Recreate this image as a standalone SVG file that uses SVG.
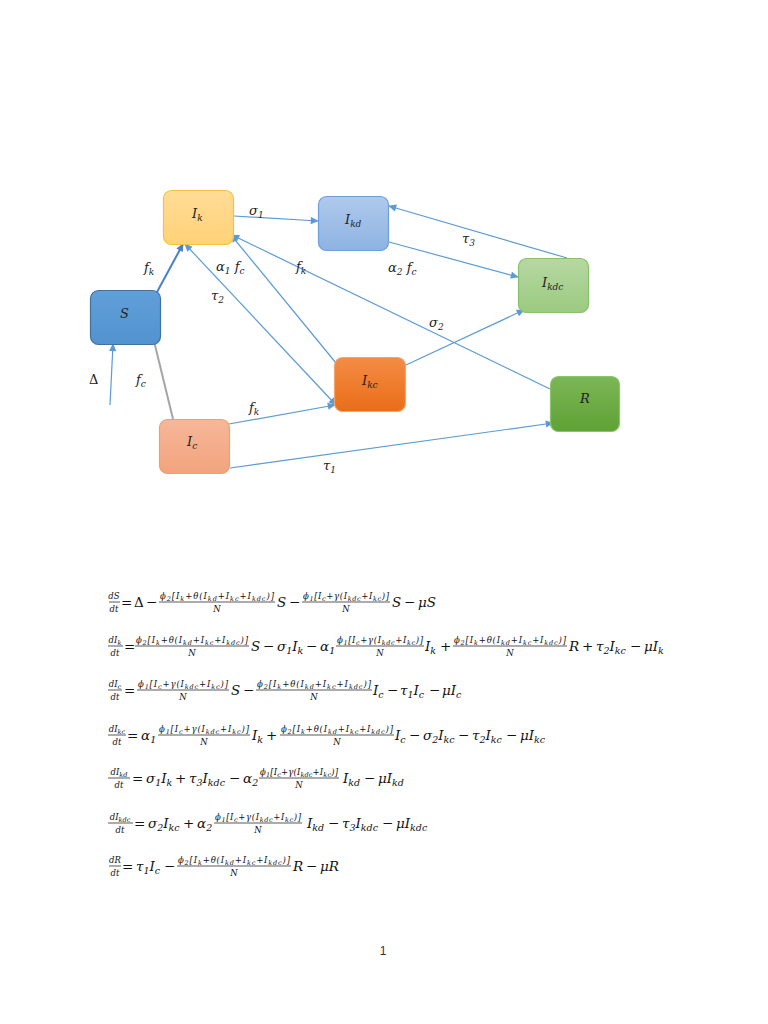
<svg xmlns="http://www.w3.org/2000/svg" width="768" height="1024" viewBox="0 0 768 1024">
<defs>
<style>
.lbl{font-family:"DejaVu Serif","Liberation Serif",serif;font-style:italic;font-size:13px;fill:#222}
.lb{font-size:9px;baseline-shift:-3px}
.m{font-family:"DejaVu Serif","Liberation Serif",serif;font-style:italic;font-size:13.5px;fill:#111}
.u{font-style:normal}
.s{font-size:9.5px;baseline-shift:-3px}
.n{font-family:"DejaVu Serif","Liberation Serif",serif;font-style:italic;font-size:8.5px;fill:#111}
.ns{font-size:6.5px;baseline-shift:-1.5px}
.bar{stroke:#111;stroke-width:0.7}
.c{fill:none;stroke:#5B9BD5;stroke-width:1.2}
.box{stroke-width:1.2}
</style>
<marker id="a" viewBox="0 0 10 10" refX="9" refY="5" markerWidth="9" markerHeight="8" markerUnits="userSpaceOnUse" orient="auto-start-reverse"><path d="M0,0.5 L10,5 L0,9.5 z" fill="#5B9BD5"/></marker>
<marker id="a2" viewBox="0 0 10 10" refX="9" refY="5" markerWidth="9" markerHeight="8" markerUnits="userSpaceOnUse" orient="auto"><path d="M0,0.5 L10,5 L0,9.5 z" fill="#4A7FCB"/></marker>
<linearGradient id="gIk" x1="0" y1="0" x2="0" y2="1"><stop offset="0" stop-color="#FFDC96"/><stop offset="1" stop-color="#FFD278"/></linearGradient>
<linearGradient id="gIkd" x1="0" y1="0" x2="0" y2="1"><stop offset="0" stop-color="#AFC9EC"/><stop offset="1" stop-color="#8DB3E2"/></linearGradient>
<linearGradient id="gIkdc" x1="0" y1="0" x2="0" y2="1"><stop offset="0" stop-color="#B6D8A2"/><stop offset="1" stop-color="#9BCA80"/></linearGradient>
<linearGradient id="gS" x1="0" y1="0" x2="0" y2="1"><stop offset="0" stop-color="#619FD8"/><stop offset="1" stop-color="#5193D0"/></linearGradient>
<linearGradient id="gIkc" x1="0" y1="0" x2="0" y2="1"><stop offset="0" stop-color="#F48C45"/><stop offset="1" stop-color="#E96D18"/></linearGradient>
<linearGradient id="gR" x1="0" y1="0" x2="0" y2="1"><stop offset="0" stop-color="#7CB657"/><stop offset="1" stop-color="#5FA234"/></linearGradient>
<linearGradient id="gIc" x1="0" y1="0" x2="0" y2="1"><stop offset="0" stop-color="#F6B799"/><stop offset="1" stop-color="#F2A37E"/></linearGradient>
</defs>
<rect width="768" height="1024" fill="#fff"/>

<g id="connectors">
<line class="c" x1="336" y1="363" x2="231" y2="235" marker-end="url(#a)"/>
<line class="c" x1="550" y1="389" x2="232" y2="235" marker-end="url(#a)"/>
<line class="c" x1="185" y1="244" x2="336" y2="405" marker-start="url(#a)" marker-end="url(#a)"/>
<line x1="157" y1="292" x2="183" y2="244" stroke="#4A7FCB" stroke-width="2" marker-end="url(#a2)"/>
<line class="c" x1="234" y1="216" x2="318" y2="221" marker-end="url(#a)"/>
<line class="c" x1="567" y1="258" x2="389" y2="206" marker-end="url(#a)"/>
<line class="c" x1="389" y1="242" x2="518" y2="277" marker-end="url(#a)"/>
<line class="c" x1="406" y1="365" x2="524" y2="310" marker-end="url(#a)"/>
<line x1="153" y1="337" x2="173" y2="419" stroke="#A5A5A5" stroke-width="2"/>
<line class="c" x1="110" y1="405" x2="113" y2="344" marker-end="url(#a)"/>
<line class="c" x1="229" y1="424" x2="335" y2="405" marker-end="url(#a)"/>
<line class="c" x1="230" y1="468" x2="553" y2="423" marker-end="url(#a)"/>
</g>

<g id="edge-labels">
<text class="lbl" x="144" y="272">f<tspan class="lb">k</tspan></text>
<text class="lbl" x="249" y="215">σ<tspan class="lb">1</tspan></text>
<text class="lbl" x="216" y="271">α<tspan class="lb">1</tspan> f<tspan class="lb">c</tspan></text>
<text class="lbl" x="211" y="300">τ<tspan class="lb">2</tspan></text>
<text class="lbl" x="296" y="271">f<tspan class="lb">k</tspan></text>
<text class="lbl" x="388" y="272">α<tspan class="lb">2</tspan> f<tspan class="lb">c</tspan></text>
<text class="lbl" x="462" y="243">τ<tspan class="lb">3</tspan></text>
<text class="lbl" x="429" y="327">σ<tspan class="lb">2</tspan></text>
<text class="lbl u" x="89" y="384">Δ</text>
<text class="lbl" x="136" y="384">f<tspan class="lb">c</tspan></text>
<text class="lbl" x="249" y="412">f<tspan class="lb">k</tspan></text>
<text class="lbl" x="323" y="470">τ<tspan class="lb">1</tspan></text>
</g>

<g id="node-Ik"><rect class="box" x="163.5" y="190.5" width="70" height="54" rx="8" fill="url(#gIk)" stroke="#F5C140"/><text class="lbl" x="192" y="218">I<tspan class="lb">k</tspan></text></g>
<g id="node-Ikd"><rect class="box" x="318.5" y="196.5" width="70" height="54" rx="8" fill="url(#gIkd)" stroke="#6E9FD8"/><text class="lbl" x="345" y="224">I<tspan class="lb">kd</tspan></text></g>
<g id="node-Ikdc"><rect class="box" x="518.5" y="258.5" width="70" height="54" rx="8" fill="url(#gIkdc)" stroke="#88C06C"/><text class="lbl" x="542" y="287">I<tspan class="lb">kdc</tspan></text></g>
<g id="node-S"><rect class="box" x="90.5" y="290.5" width="70" height="54" rx="8" fill="url(#gS)" stroke="#41719C"/><text class="lbl" x="120" y="318">S</text></g>
<g id="node-Ikc"><rect class="box" x="334.5" y="357.5" width="71" height="54" rx="8" fill="url(#gIkc)" stroke="#F3A46E"/><text class="lbl" x="362" y="385">I<tspan class="lb">kc</tspan></text></g>
<g id="node-R"><rect class="box" x="550.5" y="376.5" width="69" height="55" rx="8" fill="url(#gR)" stroke="#8CC46C"/><text class="lbl" x="580" y="403">R</text></g>
<g id="node-Ic"><rect class="box" x="159.5" y="419.5" width="70" height="54" rx="8" fill="url(#gIc)" stroke="#F4A064"/><text class="lbl" x="187" y="446">I<tspan class="lb">c</tspan></text></g>

<g id="equations">
<!-- Eq1 -->
<text class="n" x="114" y="599" text-anchor="middle">dS</text><line class="bar" x1="109" y1="602" x2="120" y2="602"/><text class="n" x="114" y="612" text-anchor="middle">dt</text>
<text class="m u" x="121" y="607">=</text><text class="m u" x="134" y="607">Δ</text><text class="m u" x="146" y="607">−</text>
<text class="n" x="160" y="599" textLength="114">ϕ<tspan class="ns">2</tspan>[I<tspan class="ns">k</tspan>+θ(I<tspan class="ns">kd</tspan>+I<tspan class="ns">kc</tspan>+I<tspan class="ns">kdc</tspan>)]</text><line class="bar" x1="159" y1="602" x2="275" y2="602"/><text class="n" x="217" y="612" text-anchor="middle">N</text>
<text class="m" x="277" y="607">S</text><text class="m u" x="289" y="607">−</text>
<text class="n" x="303" y="599" textLength="86">ϕ<tspan class="ns">1</tspan>[I<tspan class="ns">c</tspan>+γ(I<tspan class="ns">kdc</tspan>+I<tspan class="ns">kc</tspan>)]</text><line class="bar" x1="302" y1="602" x2="390" y2="602"/><text class="n" x="346" y="612" text-anchor="middle">N</text>
<text class="m" x="392" y="607">S</text><text class="m u" x="404" y="607">−</text><text class="m" x="418" y="607">μS</text>

<!-- Eq2 -->
<text class="n" x="115" y="643" text-anchor="middle">dI<tspan class="ns">k</tspan></text><line class="bar" x1="108" y1="646" x2="123" y2="646"/><text class="n" x="115" y="656" text-anchor="middle">dt</text>
<text class="m u" x="124" y="651">=</text>
<text class="n" x="136" y="643" textLength="112">ϕ<tspan class="ns">2</tspan>[I<tspan class="ns">k</tspan>+θ(I<tspan class="ns">kd</tspan>+I<tspan class="ns">kc</tspan>+I<tspan class="ns">kdc</tspan>)]</text><line class="bar" x1="135" y1="646" x2="249" y2="646"/><text class="n" x="192" y="656" text-anchor="middle">N</text>
<text class="m" x="251" y="651">S</text><text class="m u" x="263" y="651">−</text><text class="m" x="277" y="651">σ<tspan class="s">1</tspan>I<tspan class="s">k</tspan></text>
<text class="m u" x="306" y="651">−</text><text class="m" x="320" y="651">α<tspan class="s">1</tspan></text>
<text class="n" x="337" y="643" textLength="86">ϕ<tspan class="ns">1</tspan>[I<tspan class="ns">c</tspan>+γ(I<tspan class="ns">kdc</tspan>+I<tspan class="ns">kc</tspan>)]</text><line class="bar" x1="336" y1="646" x2="424" y2="646"/><text class="n" x="380" y="656" text-anchor="middle">N</text>
<text class="m" x="425" y="651">I<tspan class="s">k</tspan></text><text class="m u" x="440" y="651">+</text>
<text class="n" x="454" y="643" textLength="112">ϕ<tspan class="ns">2</tspan>[I<tspan class="ns">k</tspan>+θ(I<tspan class="ns">kd</tspan>+I<tspan class="ns">kc</tspan>+I<tspan class="ns">kdc</tspan>)]</text><line class="bar" x1="453" y1="646" x2="567" y2="646"/><text class="n" x="510" y="656" text-anchor="middle">N</text>
<text class="m" x="569" y="651">R</text><text class="m u" x="582" y="651">+</text><text class="m" x="596" y="651">τ<tspan class="s">2</tspan>I<tspan class="s">kc</tspan></text><text class="m u" x="630" y="651">−</text><text class="m" x="644" y="651">μI<tspan class="s">k</tspan></text>

<!-- Eq3 -->
<text class="n" x="115" y="687" text-anchor="middle">dI<tspan class="ns">c</tspan></text><line class="bar" x1="108" y1="690" x2="122" y2="690"/><text class="n" x="115" y="700" text-anchor="middle">dt</text>
<text class="m u" x="124" y="695">=</text>
<text class="n" x="138" y="687" textLength="90">ϕ<tspan class="ns">1</tspan>[I<tspan class="ns">c</tspan>+γ(I<tspan class="ns">kdc</tspan>+I<tspan class="ns">kc</tspan>)]</text><line class="bar" x1="137" y1="690" x2="229" y2="690"/><text class="n" x="183" y="700" text-anchor="middle">N</text>
<text class="m" x="231" y="695">S</text><text class="m u" x="243" y="695">−</text>
<text class="n" x="257" y="687" textLength="114">ϕ<tspan class="ns">2</tspan>[I<tspan class="ns">k</tspan>+θ(I<tspan class="ns">kd</tspan>+I<tspan class="ns">kc</tspan>+I<tspan class="ns">kdc</tspan>)]</text><line class="bar" x1="256" y1="690" x2="372" y2="690"/><text class="n" x="314" y="700" text-anchor="middle">N</text>
<text class="m" x="373" y="695">I<tspan class="s">c</tspan></text><text class="m u" x="387" y="695">−</text><text class="m" x="400" y="695">τ<tspan class="s">1</tspan>I<tspan class="s">c</tspan></text><text class="m u" x="429" y="695">−</text><text class="m" x="442" y="695">μI<tspan class="s">c</tspan></text>

<!-- Eq4 -->
<text class="n" x="117" y="732" text-anchor="middle">dI<tspan class="ns">kc</tspan></text><line class="bar" x1="108" y1="735" x2="126" y2="735"/><text class="n" x="117" y="745" text-anchor="middle">dt</text>
<text class="m u" x="127" y="740">=</text><text class="m" x="141" y="740">α<tspan class="s">1</tspan></text>
<text class="n" x="159" y="732" textLength="90">ϕ<tspan class="ns">1</tspan>[I<tspan class="ns">c</tspan>+γ(I<tspan class="ns">kdc</tspan>+I<tspan class="ns">kc</tspan>)]</text><line class="bar" x1="158" y1="735" x2="250" y2="735"/><text class="n" x="204" y="745" text-anchor="middle">N</text>
<text class="m" x="252" y="740">I<tspan class="s">k</tspan></text><text class="m u" x="266" y="740">+</text>
<text class="n" x="281" y="732" textLength="112">ϕ<tspan class="ns">2</tspan>[I<tspan class="ns">k</tspan>+θ(I<tspan class="ns">kd</tspan>+I<tspan class="ns">kc</tspan>+I<tspan class="ns">kdc</tspan>)]</text><line class="bar" x1="280" y1="735" x2="394" y2="735"/><text class="n" x="337" y="745" text-anchor="middle">N</text>
<text class="m" x="395" y="740">I<tspan class="s">c</tspan></text><text class="m u" x="409" y="740">−</text><text class="m" x="423" y="740">σ<tspan class="s">2</tspan>I<tspan class="s">kc</tspan></text><text class="m u" x="458" y="740">−</text><text class="m" x="472" y="740">τ<tspan class="s">2</tspan>I<tspan class="s">kc</tspan></text><text class="m u" x="506" y="740">−</text><text class="m" x="520" y="740">μI<tspan class="s">kc</tspan></text>

<!-- Eq5 -->
<text class="n" x="119" y="775" text-anchor="middle">dI<tspan class="ns">kd</tspan></text><line class="bar" x1="108" y1="778" x2="130" y2="778"/><text class="n" x="119" y="788" text-anchor="middle">dt</text>
<text class="m u" x="132" y="783">=</text><text class="m" x="146" y="783">σ<tspan class="s">1</tspan>I<tspan class="s">k</tspan></text><text class="m u" x="175" y="783">+</text><text class="m" x="189" y="783">τ<tspan class="s">3</tspan>I<tspan class="s">kdc</tspan></text><text class="m u" x="229" y="783">−</text><text class="m" x="243" y="783">α<tspan class="s">2</tspan></text>
<text class="n" x="260" y="775" textLength="78">ϕ<tspan class="ns">1</tspan>[I<tspan class="ns">c</tspan>+γ(I<tspan class="ns">kdc</tspan>+I<tspan class="ns">kc</tspan>)]</text><line class="bar" x1="259" y1="778" x2="339" y2="778"/><text class="n" x="299" y="788" text-anchor="middle">N</text>
<text class="m" x="343" y="783">I<tspan class="s">kd</tspan></text><text class="m u" x="364" y="783">−</text><text class="m" x="378" y="783">μI<tspan class="s">kd</tspan></text>

<!-- Eq6 -->
<text class="n" x="120" y="820" text-anchor="middle">dI<tspan class="ns">kdc</tspan></text><line class="bar" x1="108" y1="823" x2="133" y2="823"/><text class="n" x="120" y="833" text-anchor="middle">dt</text>
<text class="m u" x="134" y="828">=</text><text class="m" x="148" y="828">σ<tspan class="s">2</tspan>I<tspan class="s">kc</tspan></text><text class="m u" x="183" y="828">+</text><text class="m" x="197" y="828">α<tspan class="s">2</tspan></text>
<text class="n" x="215" y="820" textLength="86">ϕ<tspan class="ns">1</tspan>[I<tspan class="ns">c</tspan>+γ(I<tspan class="ns">kdc</tspan>+I<tspan class="ns">kc</tspan>)]</text><line class="bar" x1="214" y1="823" x2="302" y2="823"/><text class="n" x="258" y="833" text-anchor="middle">N</text>
<text class="m" x="307" y="828">I<tspan class="s">kd</tspan></text><text class="m u" x="328" y="828">−</text><text class="m" x="342" y="828">τ<tspan class="s">3</tspan>I<tspan class="s">kdc</tspan></text><text class="m u" x="382" y="828">−</text><text class="m" x="396" y="828">μI<tspan class="s">kdc</tspan></text>

<!-- Eq7 -->
<text class="n" x="115" y="863" text-anchor="middle">dR</text><line class="bar" x1="109" y1="866" x2="121" y2="866"/><text class="n" x="115" y="876" text-anchor="middle">dt</text>
<text class="m u" x="122" y="871">=</text><text class="m" x="136" y="871">τ<tspan class="s">1</tspan>I<tspan class="s">c</tspan></text><text class="m u" x="164" y="871">−</text>
<text class="n" x="178" y="863" textLength="112">ϕ<tspan class="ns">2</tspan>[I<tspan class="ns">k</tspan>+θ(I<tspan class="ns">kd</tspan>+I<tspan class="ns">kc</tspan>+I<tspan class="ns">kdc</tspan>)]</text><line class="bar" x1="177" y1="866" x2="291" y2="866"/><text class="n" x="234" y="876" text-anchor="middle">N</text>
<text class="m" x="293" y="871">R</text><text class="m u" x="306" y="871">−</text><text class="m" x="320" y="871">μR</text>
</g>

<text x="383" y="955" text-anchor="middle" style="font-family:'Liberation Sans',sans-serif;font-size:12px;fill:#333">1</text>
</svg>
